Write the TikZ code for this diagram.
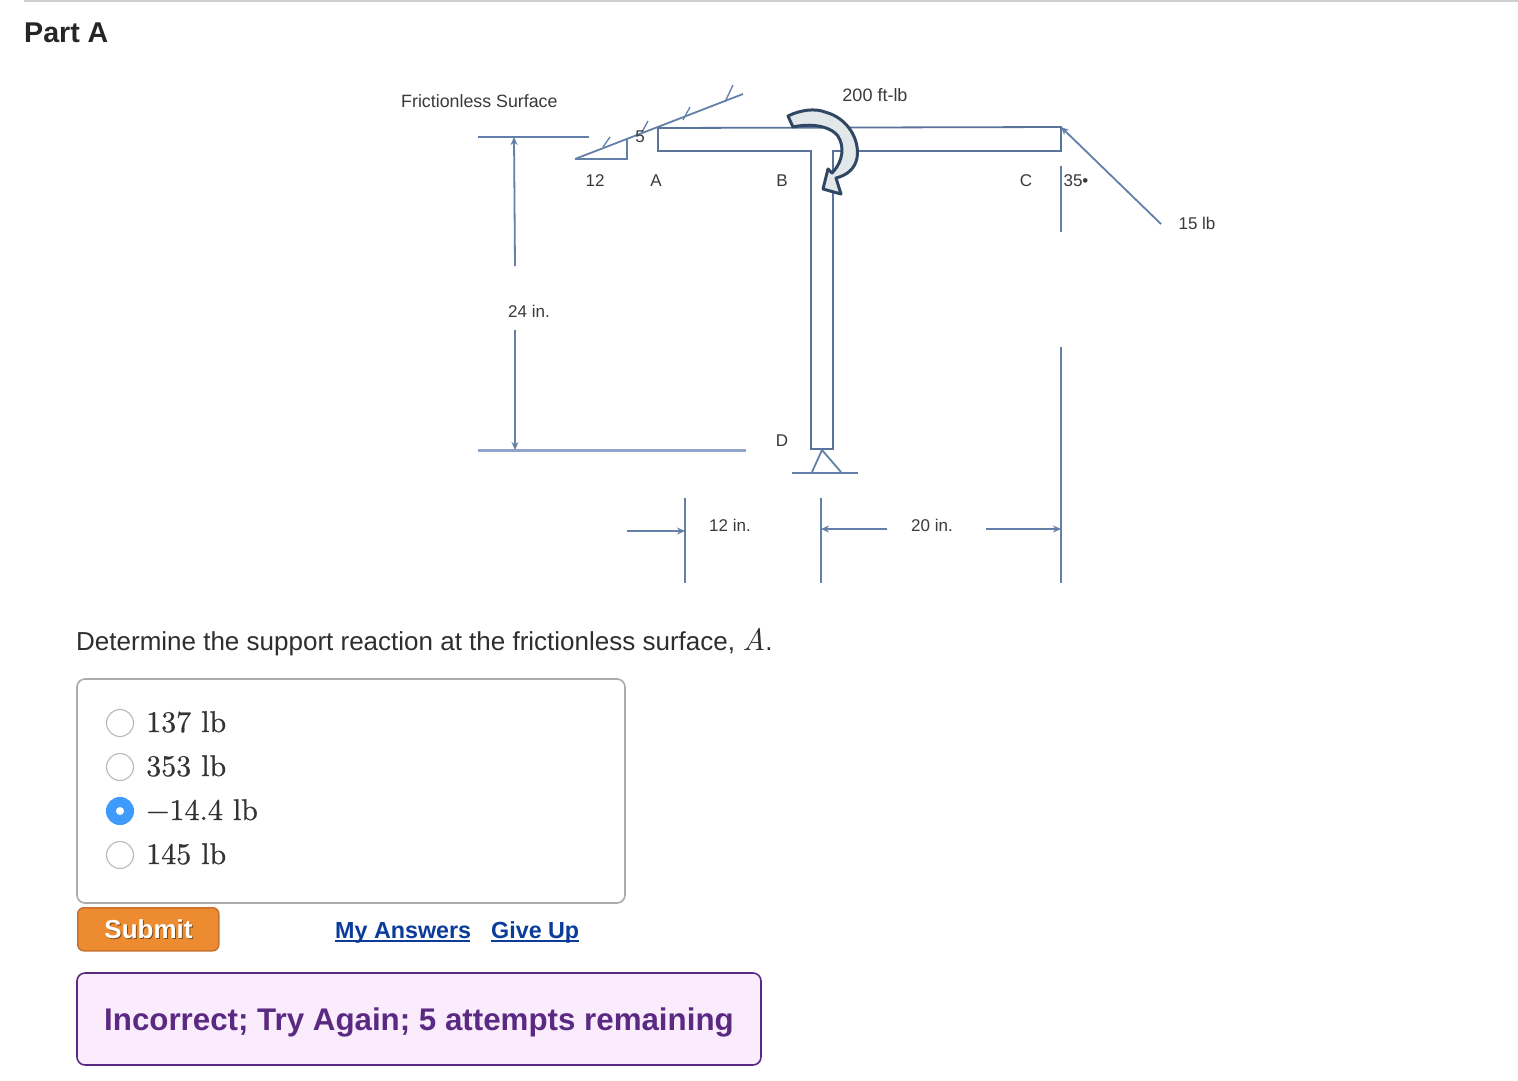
\documentclass[tikz,border=0pt]{standalone}
\usepackage{fontspec}
\setmainfont{Liberation Sans}
\newfontfamily\lmfont{lmroman10-regular}[Extension=.otf,ItalicFont=lmroman10-italic]
\newfontfamily\lmheavy{lmroman10-regular}[Extension=.otf,FakeBold=0.6]
\usetikzlibrary{arrows.meta}
\definecolor{lineblue}{HTML}{6280A8}
\definecolor{beamblue}{HTML}{5A7499}
\definecolor{palelineblue}{HTML}{8FA5CC}
\definecolor{darkline}{HTML}{2F4763}
\definecolor{arrowfill}{HTML}{E2E8EA}
\definecolor{labelgray}{HTML}{3A3A3A}
\definecolor{rulegray}{HTML}{CFCFCF}
\definecolor{boxgray}{HTML}{ABABAB}
\definecolor{radioblue}{HTML}{3F9BFB}
\definecolor{btnorange}{HTML}{EC8B30}
\definecolor{btnedge}{HTML}{C8702F}
\definecolor{linkblue}{HTML}{0B3C9A}
\definecolor{purpleink}{HTML}{5A2A82}
\definecolor{purplefill}{HTML}{FAEBFD}
\newcommand{\sz}[1]{\fontsize{#1}{#1}\selectfont}
\tikzset{
  x=1pt,y=-1pt,
  dline/.style={draw=lineblue,line width=1.8pt},
  dim/.style={dline,-{Stealth[length=8pt,width=7pt]}},
  small/.style={inner sep=0pt,text=labelgray,font=\sz{17}},
  radio/.style={circle,draw=black!28,line width=1.1pt,fill=white,minimum size=27pt,inner sep=0pt},
  option/.style={anchor=base west,inner sep=0pt,text=black!80,font=\lmheavy\sz{30}},
  link/.style={anchor=base west,inner sep=0pt,text=linkblue,font=\bfseries\sz{23.3}},
}
\begin{document}
\begin{tikzpicture}
\useasboundingbox (0,0) rectangle (1518,1080);
\fill[white] (0,0) rectangle (1518,1080);
\draw[rulegray,line width=2pt] (24,1) -- (1518,1);
\node (parta) [anchor=base west,inner sep=0pt,text=black!85,font=\bfseries\sz{28.6}] at (24,42) {Part A};

% surface and slope triangle
\draw[dline] (575,159) -- (743,94);
\draw[dline,line width=1.3pt] (603,147) -- (610,137) (642,132) -- (648,121) (683,120) -- (690,107) (725,102) -- (733,85);
\draw[dline] (575,159) -- (627,159) -- (627,138);
\node (friction) [small,anchor=base west,font=\sz{17.8}] at (401,107) {Frictionless Surface};
\node (five) [small] at (640,137) {5};
\node (twelve) [small] at (595,181) {12};
\node (a) [small] at (656,181) {A};
\node (b) [small] at (782,181) {B};
\node (c) [small] at (1026,181) {C};
\node (d) [small] at (782,441) {D};

% beam
\draw[draw=beamblue,line width=1.8pt,fill=white] (658,128) -- (1061,127) -- (1061,151) -- (833,151) -- (833,449) -- (811,449) -- (811,151) -- (658,151) -- cycle;

% support
\coordinate (apex) at (822,450);
\coordinate (footl) at (812,472);
\coordinate (footr) at (841,472);
\draw[dline] (footl) -- (apex) -- (footr);
\draw[dline] (792,473) -- (858,473);

% moment arrow
\draw[darkline,fill=arrowfill,line width=3pt,line join=round]
  (788,116) .. controls (800,110) and (815,108) .. (825,112)
  .. controls (848,118) and (860,140) .. (857,158)
  .. controls (855,168) and (848,175) .. (836,178)
  -- (841,194) -- (823,189) -- (828,169) -- (832,173)
  .. controls (840,165) and (845,152) .. (840,140)
  .. controls (836,128) and (815,122) .. (793,127) -- cycle;
\node (moment) [small,font=\sz{18}] at (875,95) {200 ft-lb};

% 24 in dimension
\coordinate (topdim) at (514,137);
\coordinate (botdim) at (515,450);
\coordinate (dim24a) at (515,266);
\coordinate (dim24b) at (515,330);
\draw[dline] (478,137) -- (589,137);
\draw[draw=palelineblue,line width=3pt] (478,450) -- (746,450);
\draw[dim] (dim24a) -- (topdim);
\draw[dim] (dim24b) -- (botdim);
\node (in24) [small] at (529,311) {24 in.};

% horizontal dimensions
\draw[dline] (685,498) -- (685,583);
\draw[dline] (821,498) -- (821,583);
\draw[dline] (1061,347) -- (1061,583);
\coordinate (d12) at (685,531);
\coordinate (d20l) at (821,529);
\coordinate (d20r) at (1061,529);
\draw[dim] (627,531) -- (d12);
\draw[dim] (887,529) -- (d20l);
\draw[dim] (986,529) -- (d20r);
\node (in12) [small] at (730,525) {12 in.};
\node (in20) [small] at (932,525) {20 in.};

% force
\draw[dline] (1061,166) -- (1061,232);
\coordinate (tip) at (1061,127);
\draw[dim] (1161,224) -- (tip);
\node (lb15) [small] at (1197,223) {15 lb};
\node (ang) [small] at (1076,181) {35•};

% question
\node (q) [anchor=base west,inner sep=0pt,text=black!82,font=\sz{26}] at (76,650) {Determine the support reaction at the frictionless surface, {\lmfont\itshape\sz{31}A}.};

% options
\draw[boxgray,line width=1.6pt,rounded corners=8pt] (77,679) rectangle (625,903);
\node (r1) [radio] at (120,723) {};
\node (r2) [radio] at (120,767) {};
\node (r3) [radio,fill=radioblue,draw=radioblue] at (120,811) {};
\node (r3dot) [circle,fill=white,minimum size=8pt,inner sep=0pt] at (120,811) {};
\node (r4) [radio] at (120,855) {};
\node (o1) [option] at (146,732) {137 lb};
\node (o2) [option] at (146,776) {353 lb};
\node (o3) [option] at (146,820) {−14.4 lb};
\node (o4) [option] at (146,864) {145 lb};

% buttons
\node (submit) [draw=btnedge,fill=btnorange,line width=1.5pt,rounded corners=6pt,minimum width=141pt,minimum height=43pt,inner sep=0pt,anchor=north west] at (77,907) {};
\node [text=black!45!btnorange,font=\bfseries\sz{26},inner sep=0pt] at (149.5,930.5) {Submit};
\node [text=white,font=\bfseries\sz{26},inner sep=0pt] at (148.5,929) {Submit};
\node (ans) [link] at (335,938) {My Answers};
\node (give) [link] at (491,938) {Give Up};
\draw[linkblue,line width=1.5pt] (335,941) -- (470,941) (491,941) -- (579,941);

% feedback
\draw[purpleink,fill=purplefill,line width=1.6pt,rounded corners=8pt] (77,973) rectangle (761,1065);
\node (fb) [anchor=base west,inner sep=0pt,text=purpleink,font=\bfseries\sz{31.3}] at (104,1030) {Incorrect; Try Again; 5 attempts remaining};
\end{tikzpicture}
\end{document}
